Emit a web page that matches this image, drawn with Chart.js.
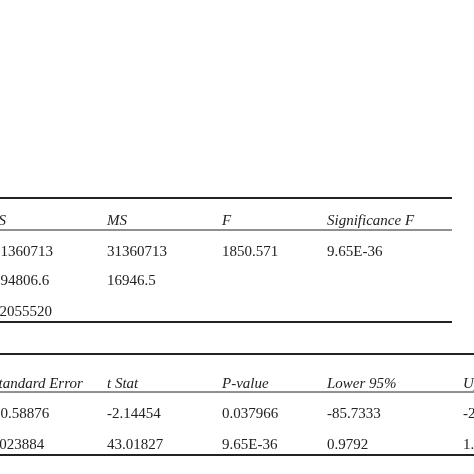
<!DOCTYPE html>
<html>
<head>
<meta charset="utf-8">
<script src="https://cdn.jsdelivr.net/npm/chart.js@4"></script>
<style>
  html, body { margin: 0; padding: 0; background: white; }
  #wrap { width: 474px; height: 474px; }
</style>
</head>
<body>
<div id="wrap"><canvas id="chart-1"></canvas></div>
<script>
// ANOVA table (first column is cut off at the left edge)
var anovaHeader = ["SS", "MS", "F", "Significance F"];
var anovaRows = [
  ["31360713", "31360713", "1850.571", "9.65E-36"],
  ["694806.6", "16946.5", "", ""],
  ["32055520", "", "", ""],
];

// coefficients table
var coefHeader = ["Standard Error", "t Stat", "P-value", "Lower 95%", "Upper 95%"];
var coefRows = [
  ["20.58876", "-2.14454", "0.037966", "-85.7333", "-2.57"],
  ["0.023884", "43.01827", "9.65E-36", "0.9792", "1.075"],
];

// layout in chart units (x: 0..474 left to right, y: 0..474 top to bottom)
var colX = [-8, 107, 222, 327, 463];
var firstColShift = [[-9, -7, -7, -8], [-9, -7, -12]];
var anovaY = [221, 252, 281, 312];
var coefY = [384, 414, 445];
var rules = [
  { y: 198, x2: 452, w: 2 },
  { y: 230, x2: 452, w: 1 },
  { y: 322, x2: 452, w: 2 },
  { y: 354, x2: 474, w: 2 },
  { y: 392, x2: 474, w: 1 },
  { y: 455, x2: 474, w: 2 },
];

var tablePlugin = {
  id: "table",
  afterDraw: function (chart) {
    var c = chart.ctx, xs = chart.scales.x, ys = chart.scales.y;
    c.save();
    c.fillStyle = "#222";
    c.strokeStyle = "#222";
    c.textBaseline = "middle";
    c.textAlign = "left";
    rules.forEach(function (r) {
      c.lineWidth = r.w;
      c.beginPath();
      c.moveTo(xs.getPixelForValue(0), ys.getPixelForValue(r.y));
      c.lineTo(xs.getPixelForValue(r.x2), ys.getPixelForValue(r.y));
      c.stroke();
    });
    function row(cells, y, italic, shift) {
      c.font = (italic ? "italic " : "") + "15px 'Liberation Serif', serif";
      cells.forEach(function (t, i) {
        var x = i === 0 ? shift : colX[i];
        c.fillText(t, xs.getPixelForValue(x), ys.getPixelForValue(y));
      });
    }
    row(anovaHeader, anovaY[0], true, firstColShift[0][0]);
    anovaRows.forEach(function (r, i) { row(r, anovaY[i + 1], false, firstColShift[0][i + 1]); });
    row(coefHeader, coefY[0], true, firstColShift[1][0]);
    coefRows.forEach(function (r, i) { row(r, coefY[i + 1], false, firstColShift[1][i + 1]); });
    c.restore();
  },
};

var tableChart = new Chart(document.getElementById("chart-1"), {
  type: "scatter",
  data: { datasets: [{ data: [] }] },
  options: {
    responsive: true,
    maintainAspectRatio: false,
    animation: false,
    layout: { padding: 0 },
    plugins: { legend: { display: false }, tooltip: { enabled: false } },
    scales: {
      x: { type: "linear", min: 0, max: 474, display: false },
      y: { type: "linear", min: 0, max: 474, reverse: true, display: false },
    },
  },
  plugins: [tablePlugin],
});
</script>
</body>
</html>
